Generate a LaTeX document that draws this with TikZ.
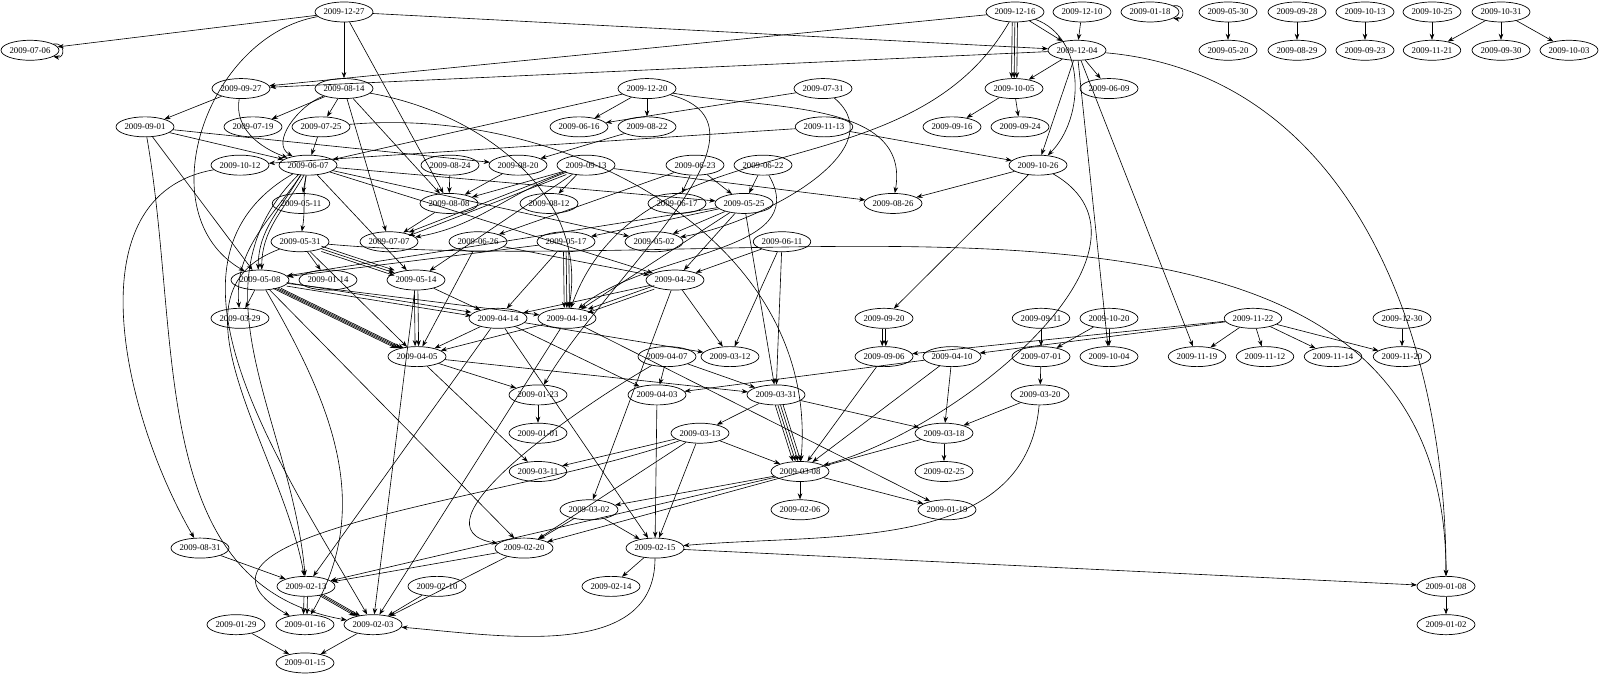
\documentclass[tikz,border=0pt]{standalone}
\usepackage{fontspec}
\setmainfont{Liberation Serif}
\usepackage{tikz}
\usetikzlibrary{shapes,arrows.meta,positioning}

\tikzset{
  day/.style={draw, ellipse, inner xsep=0pt, inner ysep=0pt, minimum width=1.12cm,
    minimum height=0.4cm, font=\fontsize{5}{6}\selectfont},
  edge/.style={-{Stealth[length=3.5pt,width=2.6pt]}, line width=0.35pt},
}

\begin{document}
\begin{tikzpicture}[x=0.02cm, y=-0.766cm]
\useasboundingbox (0,0) rectangle (1600,17.62);

% nodes, one rank per line
\foreach \m/\d/\x/\r in {
  12/27/344/0, 12/16/1015/0, 12/10/1082/0, 01/18/1150/0, 05/30/1228/0, 09/28/1297/0, 10/13/1365/0, 10/25/1432/0, 10/31/1501/0,
  07/06/30/1, 12/04/1077/1, 05/20/1228/1, 08/29/1297/1, 09/23/1365/1, 11/21/1432/1, 09/30/1501/1, 10/03/1569/1,
  09/27/241/2, 08/14/344/2, 12/20/647/2, 07/31/823/2, 10/05/1014/2, 06/09/1109/2,
  09/01/145/3, 07/19/253/3, 07/25/321/3, 06/16/579/3, 08/22/647/3, 11/13/824/3, 09/16/952/3, 09/24/1020/3,
  10/12/240/4, 06/07/308/4, 08/24/450/4, 08/20/518/4, 09/13/586/4, 06/23/695/4, 06/22/763/4, 10/26/1038/4,
  05/11/301/5, 08/08/449/5, 08/12/549/5, 06/17/677/5, 05/25/744/5, 08/26/893/5,
  05/31/300/6, 07/07/389/6, 06/26/478/6, 05/17/566/6, 05/02/654/6, 06/11/782/6,
  05/08/260/7, 01/14/328/7, 05/14/416/7, 04/29/675/7,
  03/29/240/8, 04/14/498/8, 04/19/567/8, 09/20/884/8, 09/11/1041/8, 10/20/1109/8, 11/22/1253/8, 12/30/1402/8,
  04/05/417/9, 03/12/730/9, 04/07/667/9, 09/06/884/9, 04/10/952/9, 07/01/1041/9, 10/04/1109/9, 11/19/1197/9, 11/12/1265/9, 11/14/1333/9, 11/20/1402/9,
  01/23/538/10, 04/03/657/10, 03/31/776/10, 03/20/1040/10,
  01/01/538/11, 03/13/700/11, 03/18/944/11,
  03/11/538/12, 03/08/800/12, 02/25/944/12,
  03/02/589/13, 02/06/800/13, 01/19/947/13,
  08/31/200/14, 02/20/524/14, 02/15/655/14,
  02/13/306/15, 02/10/437/15, 02/14/611/15, 01/08/1446/15,
  01/29/236/16, 01/16/305/16, 02/03/373/16, 01/02/1446/16,
  01/15/305/17}
  \node[day] (d\m\d) at (\x,\r+0.313) {2009-\m-\d};

% single edges
\foreach \a/\b in {
  1227/0706, 1227/0814, 1227/1204, 1227/0808,
  1216/1204, 1216/0927, 1210/1204,
  1204/0927, 1204/1005, 1204/0609, 1204/1026, 1204/1119, 1204/1004,
  0530/0520, 0928/0829, 1013/0923, 1025/1121, 1031/1121, 1031/0930, 1031/1003,
  0927/0901, 0814/0719, 0814/0725, 0814/0707, 0814/0808,
  1220/0616, 1220/0822, 1220/0607, 0731/0616, 1113/1026, 1113/1012,
  1005/0916, 1005/0924,
  0725/0607, 0901/0607, 0901/0820, 0901/0508, 0822/0820, 0820/0808, 0824/0808,
  0913/0808, 0913/0812, 0913/0514, 0913/0826,
  0623/0617, 0623/0525, 0623/0626, 0622/0525,
  1026/0826, 1026/0920,
  0607/0511, 0607/0514, 0607/0502, 0607/0429, 0607/0525,
  0808/0707, 0525/0517, 0525/0502, 0525/0419, 0525/0429, 0525/0331, 0525/0508,
  0531/0114, 0531/0405, 0517/0414, 0517/0508,
  0626/0429, 0626/0405, 0611/0429, 0611/0312, 0611/0331,
  0508/0329, 0508/0419, 0508/0220,
  0514/0414, 0514/0203, 0429/0414, 0429/0312, 0429/0302,
  0414/0405, 0414/0312, 0414/0403, 0414/0215, 0414/0213,
  0419/0405, 0419/0203, 0419/0119,
  0405/0123, 0405/0311, 0405/0331,
  0911/0701, 1020/0701, 1020/1004,
  1122/1119, 1122/1112, 1122/1114, 1122/1120, 1122/0906, 1122/0410, 1230/1120,
  0407/0403, 0407/0331, 0410/0403, 0410/0318, 0410/0308, 0906/0308,
  0701/0320, 0320/0318, 0123/0101,
  0331/0313, 0331/0318,
  0313/0311, 0313/0308, 0313/0220, 0313/0215,
  0318/0225, 0318/0220,
  0308/0206, 0308/0119, 0308/0302, 0308/0213,
  0302/0220, 0302/0215, 0403/0215,
  0220/0213, 0220/0203, 0215/0214, 0215/0108,
  0831/0213, 0210/0203, 0129/0115, 0203/0115, 0108/0102}
  \draw[edge] (d\a) -- (d\b);

% curved edges
\draw[edge] (d1227) to[out=190,in=150,looseness=1.1] (d0508);
\draw[edge] (d1216) to[out=-120,in=70] (d0419);
\draw[edge] (d1216) to[out=-20,in=45] (d1026);
\draw[edge] (d1204) to[out=-5,in=90] (d0108);
\draw[edge] (d0927) to[out=-100,in=160] (d0607);
\draw[edge] (d0814) to[out=200,in=150] (d0607);
\draw[edge] (d0814) to[out=-10,in=80] (d0419);
\draw[edge] (d1220) to[out=-10,in=80] (d0826);
\draw[edge] (d1220) to[out=-15,in=60] (d0123);
\draw[edge] (d0731) to[out=-40,in=10] (d0502);
\draw[edge] (d0725) to[out=5,in=85] (d0308);
\draw[edge] (d0901) to[out=-80,in=170] (d0203);
\draw[edge] (d0622) to[out=-60,in=40] (d0419);
\draw[edge] (d1026) to[out=-30,in=15] (d0308);
\draw[edge] (d1012) to[out=190,in=120] (d0831);
\draw[edge] (d0531) to[out=200,in=100] (d0213);
\draw[edge] (d0531) to[out=-5,in=90] (d0108);
\draw[edge] (d0407) to[out=-150,in=170] (d0220);
\draw[edge] (d0320) to[out=-95,in=5] (d0215);
\draw[edge] (d0215) to[out=-90,in=-5] (d0203);
\draw[edge] (d0913) to[out=-160,in=10] (d0707);
\draw[edge] (d0607) to[out=-125,in=95] (d0329);
\draw[edge] (d0607) to[out=-135,in=95] (d0213);
\draw[edge] (d0607) to[out=-150,in=120] (d0203);
\draw[edge] (d0607) to[out=-100,in=80] (d0531);
\draw[edge] (d0508) to[out=-60,in=60] (d0116);
\draw[edge] (d0313) to[out=-160,in=150] (d0116);

% repeated edges
\foreach \s in {-1.5,0,1.5} {
  \draw[edge, transform canvas={xshift=\s pt}] (d1216) -- (d1005);
  \draw[edge, transform canvas={yshift=\s pt}] (d0531) -- (d0514);
  \draw[edge, transform canvas={xshift=\s pt}] (d0213) -- (d0203);
  \draw[edge, transform canvas={xshift=\s pt}] (d0517) -- (d0419);
}
\foreach \s in {-1,1} {
  \draw[edge, transform canvas={xshift=\s pt}] (d0607) to[out=-120,in=90] (d0508);
  \draw[edge, transform canvas={yshift=\s pt}] (d0508) -- (d0414);
  \draw[edge, transform canvas={xshift=\s pt}] (d0514) -- (d0405);
  \draw[edge, transform canvas={yshift=\s pt}] (d0913) -- (d0707);
  \draw[edge, transform canvas={yshift=\s pt}] (d0429) -- (d0419);
  \draw[edge, transform canvas={xshift=\s pt}] (d0920) -- (d0906);
  \draw[edge, transform canvas={xshift=\s pt}] (d0213) -- (d0116);
}
\foreach \s in {-2.25,-0.75,0.75,2.25} {
  \draw[edge, transform canvas={xshift=\s pt}] (d0508) -- (d0405);
  \draw[edge, transform canvas={xshift=\s pt}] (d0331) -- (d0308);
}

% self loops
\draw[edge] (d0706.15) to[out=10,in=-10,looseness=2.5] (d0706.-15);
\draw[edge] (d0118.15) to[out=10,in=-10,looseness=2.5] (d0118.-15);

\end{tikzpicture}
\end{document}
